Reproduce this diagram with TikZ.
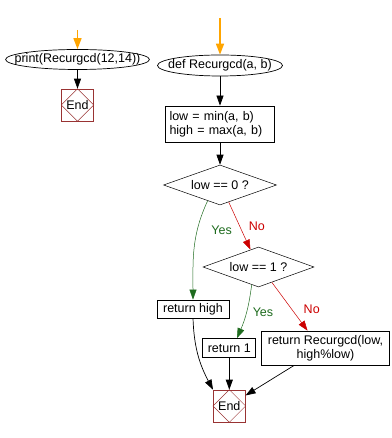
\documentclass[tikz,border=0pt]{standalone}
\usepackage{fontspec}
\setmainfont{Liberation Sans}
\usetikzlibrary{shapes.geometric,arrows.meta}
\definecolor{endred}{HTML}{993333}
\definecolor{yesgreen}{HTML}{1E6B1E}
\definecolor{nored}{HTML}{CC0000}
\definecolor{startorange}{HTML}{FFA500}
\begin{document}
\begin{tikzpicture}[x=1pt,y=1pt,
    font=\fontsize{12.5}{14}\selectfont,
    every node/.style={inner sep=0pt},
    term/.style={ellipse,draw,line width=.7pt,inner ysep=-2pt},
    proc/.style={rectangle,draw,line width=.7pt,minimum height=18pt},
    cond/.style={diamond,draw,line width=.5pt,shape aspect=2.8,minimum height=40pt},
    stopbox/.style={rectangle,draw=endred,line width=.6pt,minimum width=32pt,minimum height=32pt},
    flow/.style={-{Triangle[length=10pt,width=7pt]},line width=.7pt},
    startflow/.style={flow,startorange,line width=1.6pt,-{Triangle[length=11pt,width=8pt]}},
    yesflow/.style={flow,yesgreen,line width=.5pt},
    noflow/.style={flow,nored,line width=.5pt}
    ]
    \useasboundingbox (0,0) rectangle (391,438);

    \coordinate (s1) at (77.5,408);
    \node[term,inner xsep=-12pt,inner ysep=0pt,minimum width=143pt,minimum height=20pt] (print) at (77.5,378.5) {print(Recurgcd(12,14))};
    \node[stopbox] (end1) at (77.5,333) {End};

    \coordinate (s2) at (220,420);
    \node[term,inner xsep=-8pt,minimum width=125pt,minimum height=21pt] (def) at (220,372.5) {def Recurgcd(a, b)};
    \node[proc,text width=101pt,align=left,inner xsep=4pt,minimum height=36pt] (init) at (220,314) {low = min(a, b)\\high = max(a, b)};
    \node[cond,minimum width=113pt] (low0) at (220,253) {low == 0 ?};
    \node[cond,minimum width=111pt] (low1) at (258.5,171) {low == 1 ?};
    \node[proc,minimum width=72pt] (rethigh) at (193,129) {return high};
    \node[proc,minimum width=53pt,minimum height=19pt] (retone) at (229.3,90) {return 1};
    \node[proc,minimum width=128pt,minimum height=34pt,align=center] (retrec) at (325.5,90) {return Recurgcd(low,\\high\%low)};
    \node[stopbox] (end2) at (229.3,32) {End};

    \foreach \e in {end1,end2}\draw[endred,line width=.5pt] (\e.north)--(\e.east)--(\e.south)--(\e.west)--cycle;

    \draw[startflow] (s1) -- (print.north);
    \draw[startflow] (s2) -- (def.north);
    \draw[flow] (print.south) -- (end1.north);
    \draw[flow] (def.south) -- (init.north);
    \draw[flow] (init.south) -- (low0.north);

    \draw[yesflow] (low0.232) to[out=245,in=90] node[pos=.3,right=14pt,yesgreen]{Yes} (rethigh.north);
    \draw[noflow] (low0.297) -- node[pos=.5,right=9pt,nored]{No} (low1.115);
    \draw[yesflow] (low1.249) to[bend left=8] node[pos=.5,right=6pt,yesgreen]{Yes} (retone.52);
    \draw[noflow] (low1.311) -- node[pos=.55,right=12pt,nored]{No} (retrec.136);

    \draw[flow] (rethigh.south) to[out=-88,in=118] (end2.north west);
    \draw[flow] (retone.south) -- (end2.north);
    \draw[flow] (retrec.209) -- (end2.33);
\end{tikzpicture}
\end{document}
